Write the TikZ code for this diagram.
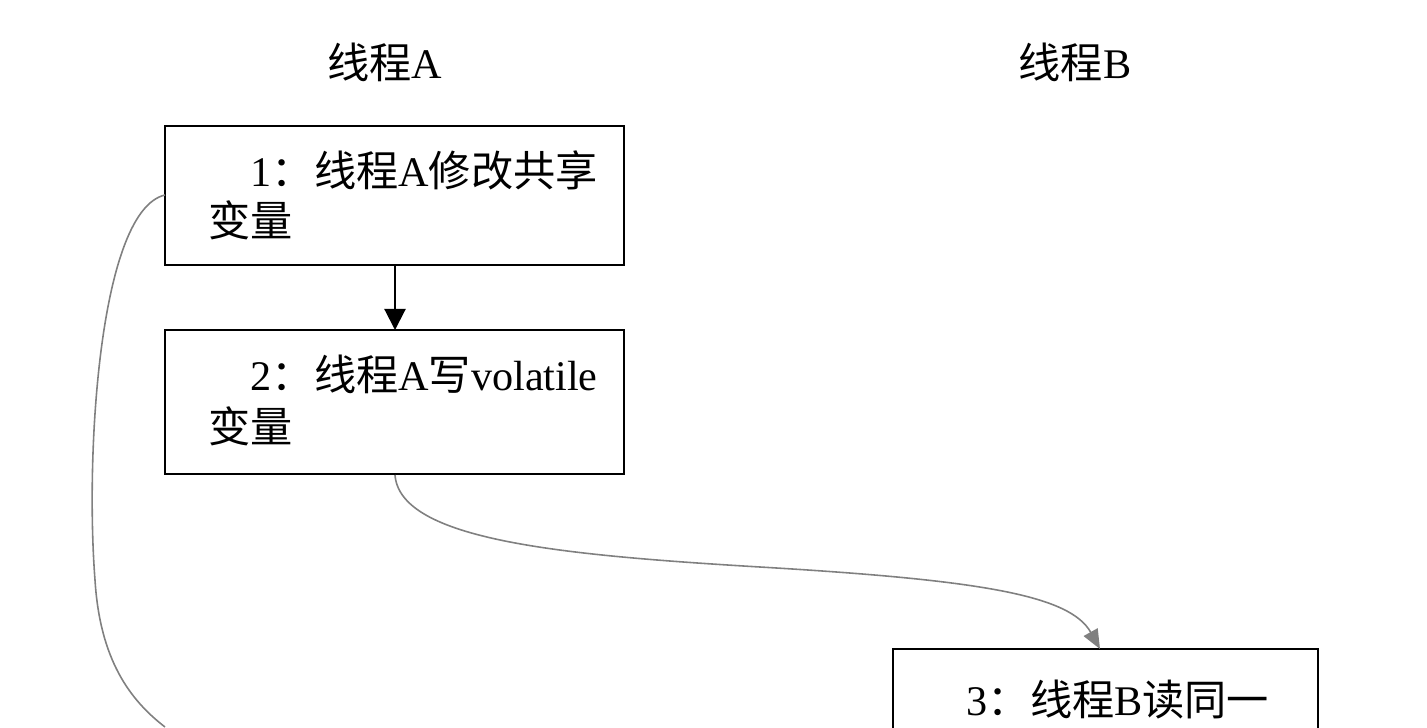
\documentclass[tikz,border=0pt]{standalone}
\usepackage{fontspec}
\setmainfont{Liberation Serif}
\newfontfamily\cjk{Noto Sans CJK SC}
\usetikzlibrary{arrows.meta}
\begin{document}
\begin{tikzpicture}[x=0.01cm,y=-0.01cm,
  box/.style={draw,line width=0.6pt},
  txt/.style={anchor=base west,inner sep=0,font=\fontsize{12}{14}\selectfont},
  ttl/.style={inner sep=0,font=\fontsize{12}{14}\selectfont}]
\useasboundingbox[fill=white] (0,0) rectangle (1427,727);
\clip (0,0) rectangle (1427,727);
\node[ttl] (ta) at (385,62) {{\cjk 线程}A};
\node[ttl] (tb) at (1075,62) {{\cjk 线程}B};
\draw[box] (165,126) rectangle (624,265);
\coordinate (b1t) at (395,265); \coordinate (b1l) at (165,195);
\node[txt] (l1a) at (250,186) {1{\cjk ：线程}A{\cjk 修改共享}};
\node[txt] (l1b) at (208,236) {\cjk 变量};
\draw[box] (165,330) rectangle (624,474);
\coordinate (b2t) at (395,330); \coordinate (b2b) at (395,475);
\node[txt] (l2a) at (250,390) {2{\cjk ：线程}A{\cjk 写}volatile};
\node[txt] (l2b) at (208,442) {\cjk 变量};
\draw[box] (893,649) rectangle (1318,760);
\coordinate (b3t) at (1100,649);
\node[txt] (l3a) at (966,715) {3{\cjk ：线程}B{\cjk 读同一}};
\draw[line width=0.6pt,-{Triangle[length=6pt,width=6pt]}] (b1t) -- (b2t);
\draw[gray,line width=0.45pt,-{Triangle[length=5.5pt,width=4.5pt]}] (b2b) .. controls (400,540) and (560,555) .. (760,567) .. controls (980,580) and (1070,595) .. (b3t);
\coordinate (lend) at (165,727);
\draw[gray,line width=0.45pt] (b1l) .. controls (100,210) and (85,450) .. (95,580) .. controls (100,660) and (130,700) .. (lend);
\end{tikzpicture}
\end{document}
